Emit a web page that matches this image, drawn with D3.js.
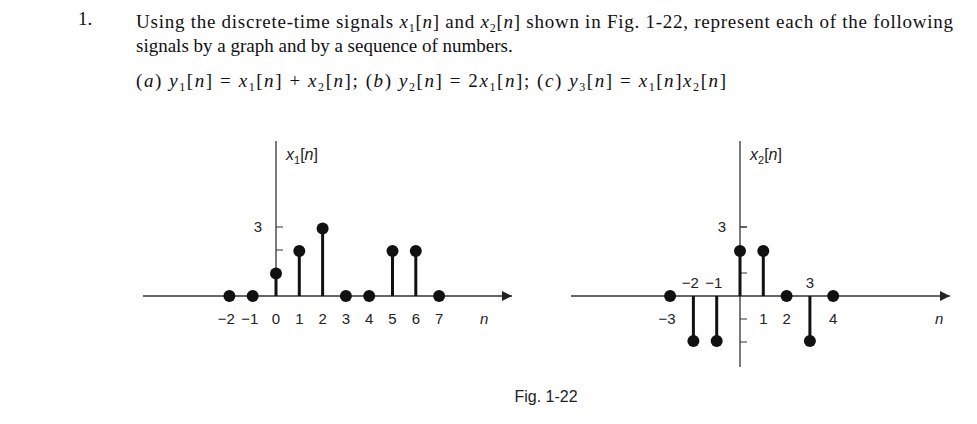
<!DOCTYPE html><html><head><meta charset="utf-8"><script src="https://cdn.jsdelivr.net/npm/d3@7"></script>
<style>body{margin:0;background:#fff}</style></head><body><svg id="c" width="977" height="424"></svg>
<script>
const n1=[-2,-1,0,1,2,3,4,5,6,7];
const x1=[0,0,1,2,3,0,0,2,2,0];
const n2=[-3,-2,-1,0,1,2,3,4];
const x2=[0,-2,-2,2,2,0,-2,0];
const ticks1=[2,3];
const ticks2=[-2,-1,1,3];
const svg=d3.select("#c");
const ser="Liberation Serif";
const T=svg.append("g").attr("font-family",ser).attr("font-size",19).attr("fill","#111");
T.append("text").attr("x",78).attr("y",25).text("1.");
T.append("text").attr("x",136).attr("y",28).attr("textLength",817).html('Using the discrete-time signals <tspan font-style="italic">x</tspan><tspan font-size="12" dy="4">1</tspan><tspan dy="-4">[</tspan><tspan font-style="italic">n</tspan>] and <tspan font-style="italic">x</tspan><tspan font-size="12" dy="4">2</tspan><tspan dy="-4">[</tspan><tspan font-style="italic">n</tspan>] shown in Fig. 1-22, represent each of the following');
T.append("text").attr("x",136).attr("y",52).text("signals by a graph and by a sequence of numbers.");
T.append("text").attr("x",136).attr("y",87).attr("textLength",590).html('(<tspan font-style="italic">a</tspan>)  <tspan font-style="italic">y</tspan><tspan font-size="12" dy="4">1</tspan><tspan dy="-4">[</tspan><tspan font-style="italic">n</tspan>] = <tspan font-style="italic">x</tspan><tspan font-size="12" dy="4">1</tspan><tspan dy="-4">[</tspan><tspan font-style="italic">n</tspan>] + <tspan font-style="italic">x</tspan><tspan font-size="12" dy="4">2</tspan><tspan dy="-4">[</tspan><tspan font-style="italic">n</tspan>];  (<tspan font-style="italic">b</tspan>)  <tspan font-style="italic">y</tspan><tspan font-size="12" dy="4">2</tspan><tspan dy="-4">[</tspan><tspan font-style="italic">n</tspan>] = 2<tspan font-style="italic">x</tspan><tspan font-size="12" dy="4">1</tspan><tspan dy="-4">[</tspan><tspan font-style="italic">n</tspan>];  (<tspan font-style="italic">c</tspan>)  <tspan font-style="italic">y</tspan><tspan font-size="12" dy="4">3</tspan><tspan dy="-4">[</tspan><tspan font-style="italic">n</tspan>] = <tspan font-style="italic">x</tspan><tspan font-size="12" dy="4">1</tspan><tspan dy="-4">[</tspan><tspan font-style="italic">n</tspan>]<tspan font-style="italic">x</tspan><tspan font-size="12" dy="4">2</tspan><tspan dy="-4">[</tspan><tspan font-style="italic">n</tspan>]');
svg.append("text").attr("x",546).attr("y",402).attr("text-anchor","middle").attr("font-family","Liberation Sans").attr("font-size",16).attr("fill","#222").text("Fig. 1-22");
svg.append("defs").append("marker").attr("id","ar").attr("viewBox","0 0 10 10").attr("refX",10).attr("refY",5).attr("markerWidth",10).attr("markerHeight",10).attr("markerUnits","userSpaceOnUse").attr("orient","auto").append("path").attr("d","M0,0L10,5L0,10z").attr("fill","#222");

function plot(o){
  const g=svg.append("g").attr("font-family","Liberation Sans").attr("font-size",15).attr("fill","#222");
  const x=d3.scaleLinear().domain([0,1]).range([o.x0,o.x0+23.3]);
  const y=d3.scaleLinear().domain([0,1]).range([296,273.5]);
  const yt=d3.scaleLinear().domain([0,1]).range([296,273]);
  g.append("line").attr("x1",o.ax0).attr("x2",o.ax1).attr("y1",296).attr("y2",296).attr("stroke","#333").attr("stroke-width",1.5).attr("marker-end","url(#ar)");
  g.append("line").attr("x1",x(0)).attr("x2",x(0)).attr("y1",o.vy0).attr("y2",o.vy1).attr("stroke","#333").attr("stroke-width",1.3);
  g.selectAll(".t").data(o.ticks).join("line").attr("x1",x(0)).attr("x2",x(0)+7).attr("y1",d=>yt(d)).attr("y2",d=>yt(d)).attr("stroke","#333");
  g.append("text").attr("x",x(0)-14).attr("y",yt(3)+5).attr("text-anchor","end").text("3");
  g.selectAll(".s").data(o.n).join("line").attr("x1",d=>x(d)).attr("x2",d=>x(d)).attr("y1",296).attr("y2",(d,i)=>y(o.v[i])).attr("stroke","#111").attr("stroke-width",3);
  g.selectAll("circle").data(o.n).join("circle").attr("cx",d=>x(d)).attr("cy",(d,i)=>y(o.v[i])).attr("r",6).attr("fill","#111");
  g.selectAll(".l").data(o.n.filter(o.show)).join("text").attr("x",d=>x(d)+(d<0?-3:0)).attr("y",d=>o.above(d)?288:324).attr("text-anchor","middle").text(d=>d<0?"\u2212"+(-d):d);
  g.append("text").attr("x",o.nx).attr("y",324).attr("font-style","italic").text("n");
  g.append("text").attr("x",x(0)+10).attr("y",160).attr("font-size",16).html('<tspan font-style="italic">x</tspan><tspan font-size="11" dy="4">'+o.sub+'</tspan><tspan dy="-4">[</tspan><tspan font-style="italic">n</tspan>]');
}
plot({x0:276,n:n1,v:x1,ticks:ticks1,ax0:143,ax1:512,vy0:141,vy1:296,above:d=>false,show:d=>true,nx:480,sub:1});
plot({x0:740,n:n2,v:x2,ticks:ticks2.concat([3]),ax0:571,ax1:950,vy0:141,vy1:367,above:d=>d==-2||d==-1||d==3,show:d=>d!=0,nx:935,sub:2});
</script></body></html>
